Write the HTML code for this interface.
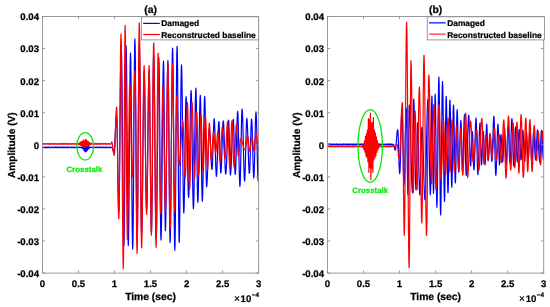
<!DOCTYPE html>
<html><head><meta charset="utf-8"><title>Figure</title>
<style>html,body{margin:0;padding:0;background:#fff;}svg{display:block;filter:blur(0.25px);}</style>
</head><body>
<svg width="550" height="307" viewBox="0 0 550 307" text-rendering="geometricPrecision">
<rect width="550" height="307" fill="#fff"/>
<clipPath id="ca"><rect x="42.45" y="16.50" width="216.15" height="256.60"/></clipPath>
<g clip-path="url(#ca)" fill="none" stroke-linejoin="round">
<polyline points="42.20,147.82 42.43,147.66 42.67,147.33 42.90,147.17 43.13,147.31 43.37,147.61 43.60,147.76 43.83,147.61 44.07,147.31 44.30,147.16 44.53,147.32 44.77,147.63 45.00,147.79 45.23,147.62 45.47,147.27 45.70,147.10 45.93,147.28 46.17,147.64 46.40,147.82 46.63,147.61 46.87,147.17 47.10,146.95 47.33,147.15 47.57,147.54 47.80,147.74 48.03,147.54 48.27,147.15 48.50,146.95 48.73,147.14 48.97,147.51 49.20,147.69 49.43,147.56 49.67,147.29 49.90,147.16 50.13,147.31 50.37,147.61 50.60,147.76 50.83,147.61 51.07,147.32 51.30,147.17 51.53,147.29 51.77,147.54 52.00,147.67 52.23,147.52 52.47,147.23 52.70,147.08 52.93,147.25 53.17,147.59 53.40,147.76 53.63,147.61 53.87,147.30 54.10,147.14 54.33,147.26 54.57,147.51 54.80,147.63 55.03,147.47 55.27,147.14 55.50,146.98 55.73,147.16 55.97,147.52 56.20,147.70 56.43,147.51 56.67,147.14 56.90,146.96 57.13,147.18 57.37,147.61 57.60,147.83 57.83,147.64 58.07,147.27 58.30,147.09 58.53,147.25 58.77,147.57 59.00,147.73 59.23,147.56 59.47,147.23 59.70,147.06 59.93,147.24 60.17,147.59 60.40,147.77 60.63,147.59 60.87,147.22 61.10,147.04 61.33,147.22 61.57,147.57 61.80,147.75 62.03,147.57 62.27,147.21 62.50,147.04 62.73,147.24 62.97,147.64 63.20,147.84 63.43,147.64 63.67,147.25 63.90,147.06 64.13,147.23 64.37,147.56 64.60,147.72 64.83,147.54 65.07,147.19 65.30,147.01 65.53,147.18 65.77,147.51 66.00,147.68 66.23,147.54 66.47,147.25 66.70,147.11 66.93,147.29 67.17,147.66 67.40,147.85 67.63,147.65 67.87,147.25 68.10,147.06 68.33,147.23 68.57,147.58 68.80,147.75 69.03,147.60 69.27,147.32 69.50,147.17 69.73,147.31 69.97,147.58 70.20,147.72 70.43,147.55 70.67,147.21 70.90,147.04 71.13,147.19 71.37,147.48 71.60,147.63 71.83,147.48 72.07,147.18 72.30,147.04 72.53,147.22 72.77,147.58 73.00,147.77 73.23,147.62 73.47,147.31 73.70,147.16 73.93,147.31 74.17,147.61 74.40,147.77 74.63,147.59 74.87,147.24 75.10,147.07 75.33,147.25 75.57,147.60 75.80,147.78 76.03,147.61 76.27,147.27 76.50,147.10 76.73,147.27 76.97,147.61 77.20,147.78 77.43,147.59 77.67,147.20 77.90,147.01 78.13,147.16 78.37,147.47 78.60,147.63 78.83,147.51 79.07,147.28 79.30,147.16 79.45,147.28 79.60,147.40 79.85,147.42 80.10,147.44 80.35,147.37 80.60,147.31 80.85,147.52 81.10,147.73 81.35,147.40 81.60,147.06 81.85,147.68 82.10,148.31 82.35,147.55 82.60,146.79 82.85,147.89 83.10,148.99 83.35,147.74 83.60,146.49 83.85,148.55 84.10,150.60 84.35,148.43 84.60,146.26 84.85,148.93 85.10,151.60 85.35,148.84 85.60,146.07 85.85,148.84 86.10,151.60 86.35,148.92 86.60,146.25 86.85,148.52 87.10,150.80 87.35,148.58 87.60,146.36 87.85,147.75 88.10,149.14 88.35,147.93 88.60,146.71 88.85,147.51 89.10,148.31 89.35,147.67 89.60,147.03 89.85,147.38 90.10,147.73 90.35,147.52 90.60,147.30 90.85,147.37 91.10,147.44 91.35,147.42 91.60,147.40 91.83,147.29 92.07,147.07 92.30,146.96 92.53,147.14 92.77,147.50 93.00,147.68 93.23,147.53 93.47,147.22 93.70,147.07 93.93,147.24 94.17,147.59 94.40,147.76 94.63,147.59 94.87,147.27 95.10,147.10 95.33,147.25 95.57,147.56 95.80,147.71 96.03,147.56 96.27,147.26 96.50,147.10 96.73,147.26 96.97,147.56 97.20,147.71 97.43,147.54 97.67,147.21 97.90,147.04 98.13,147.20 98.37,147.53 98.60,147.69 98.83,147.54 99.07,147.24 99.30,147.09 99.53,147.27 99.77,147.62 100.00,147.80 100.23,147.64 100.47,147.33 100.70,147.17 100.93,147.31 101.17,147.61 101.40,147.75 101.63,147.57 101.87,147.20 102.10,147.01 102.33,147.18 102.57,147.52 102.80,147.69 103.03,147.55 103.27,147.27 103.50,147.12 103.73,147.30 103.97,147.64 104.20,147.81 104.43,147.63 104.67,147.29 104.90,147.12 105.13,147.26 105.37,147.53 105.60,147.67 105.83,147.52 106.07,147.22 106.30,147.08 106.53,147.25 106.77,147.61 107.00,147.78 107.23,147.62 107.47,147.31 107.70,147.15 107.93,147.29 108.17,147.56 108.40,147.70 108.63,147.55 108.87,147.25 109.10,147.10 109.33,147.28 109.57,147.63 109.80,147.81 110.03,147.63 110.27,147.26 110.50,147.08 110.75,147.24 111.00,147.40 111.23,147.40 111.47,147.40 111.70,147.40 111.93,147.51 112.16,147.84 112.39,148.35 112.62,148.99 112.85,149.70 113.08,150.41 113.31,151.05 113.54,151.56 113.77,151.89 114.00,152.00 114.24,151.25 114.47,149.06 114.71,145.61 114.95,141.19 115.18,136.13 115.42,130.87 115.65,125.81 115.89,121.39 116.13,117.94 116.36,115.75 116.60,115.00 116.84,117.92 117.09,126.35 117.33,139.25 117.58,155.08 117.82,171.92 118.07,187.75 118.31,200.65 118.56,209.08 118.80,212.00 119.04,207.91 119.28,196.05 119.52,177.58 119.76,154.30 120.00,128.50 120.24,102.70 120.48,79.42 120.72,60.95 120.96,49.09 121.20,45.00 121.45,49.06 121.69,60.91 121.94,79.58 122.18,103.58 122.43,130.94 122.67,159.46 122.92,186.82 123.16,210.82 123.41,229.49 123.65,241.34 123.90,245.40 124.14,239.38 124.39,222.06 124.63,195.53 124.88,162.97 125.12,128.33 125.37,95.78 125.61,69.24 125.86,51.92 126.10,45.90 126.34,51.92 126.59,69.24 126.83,95.77 127.08,128.33 127.32,162.97 127.57,195.52 127.81,222.06 128.06,239.38 128.30,245.40 128.54,239.60 128.79,222.92 129.03,197.35 129.28,165.99 129.52,132.61 129.77,101.25 130.01,75.68 130.26,59.00 130.50,53.20 130.74,59.10 130.99,76.10 131.23,102.15 131.48,134.10 131.72,168.10 131.97,200.05 132.21,226.10 132.46,243.10 132.70,249.00 132.94,242.66 133.19,224.42 133.43,196.48 133.68,162.19 133.92,125.71 134.17,91.43 134.41,63.48 134.66,45.24 134.90,38.90 135.14,44.96 135.39,62.42 135.63,89.17 135.88,121.99 136.12,156.91 136.37,189.72 136.61,216.48 136.86,233.94 137.10,240.00 137.34,234.12 137.59,217.19 137.83,191.25 138.08,159.43 138.32,125.57 138.57,93.75 138.81,67.81 139.06,50.88 139.30,45.00 139.53,49.65 139.76,63.14 139.99,84.16 140.22,110.64 140.45,140.00 140.68,169.36 140.91,195.84 141.14,216.86 141.37,230.35 141.60,235.00 141.85,231.01 142.10,219.43 142.35,201.40 142.60,178.68 142.85,153.50 143.10,128.32 143.35,105.60 143.60,87.57 143.85,75.99 144.10,72.00 144.35,75.38 144.60,85.18 144.85,100.44 145.10,119.68 145.35,141.00 145.60,162.32 145.85,181.56 146.10,196.82 146.35,206.62 146.60,210.00 146.85,206.62 147.10,196.82 147.35,181.56 147.60,162.32 147.85,141.00 148.10,119.68 148.35,100.44 148.60,85.18 148.85,75.38 149.10,72.00 149.33,75.92 149.56,87.28 149.79,104.98 150.02,127.28 150.25,152.00 150.48,176.72 150.71,199.02 150.94,216.72 151.17,228.08 151.40,232.00 151.63,227.67 151.86,215.10 152.09,195.52 152.32,170.85 152.55,143.50 152.78,116.15 153.01,91.48 153.24,71.90 153.47,59.33 153.70,55.00 153.95,59.48 154.20,72.47 154.45,92.72 154.70,118.22 154.95,146.50 155.20,174.78 155.45,200.28 155.70,220.53 155.95,233.52 156.20,238.00 156.44,234.35 156.67,223.68 156.91,206.87 157.15,185.27 157.38,160.64 157.62,134.96 157.85,110.33 158.09,88.73 158.33,71.92 158.56,61.25 158.80,57.60 159.04,63.10 159.29,78.94 159.53,103.20 159.78,132.96 160.02,164.64 160.27,194.40 160.51,218.66 160.76,234.50 161.00,240.00 161.25,235.62 161.50,222.91 161.75,203.11 162.00,178.16 162.25,150.50 162.50,122.84 162.75,97.89 163.00,78.09 163.25,65.38 163.50,61.00 163.74,67.46 163.97,85.85 164.21,113.38 164.45,145.85 164.69,178.32 164.93,205.85 165.16,224.24 165.40,230.70 165.65,226.53 165.90,214.45 166.15,195.62 166.40,171.90 166.65,145.60 166.90,119.30 167.15,95.58 167.40,76.75 167.65,64.67 167.90,60.50 168.14,65.99 168.39,81.79 168.63,106.00 168.88,135.70 169.12,167.30 169.37,197.00 169.61,221.21 169.86,237.01 170.10,242.50 170.35,237.74 170.60,223.94 170.85,202.43 171.10,175.34 171.35,145.30 171.60,115.26 171.85,88.17 172.10,66.66 172.35,52.86 172.60,48.10 172.84,54.19 173.09,71.74 173.33,98.62 173.58,131.60 173.82,166.70 174.07,199.67 174.31,226.56 174.56,244.11 174.80,250.20 175.03,245.21 175.26,230.73 175.49,208.17 175.72,179.75 175.95,148.25 176.18,116.75 176.41,88.33 176.64,65.77 176.87,51.29 177.10,46.30 177.33,52.22 177.57,69.25 177.80,95.35 178.03,127.37 178.27,161.43 178.50,193.45 178.73,219.55 178.97,236.58 179.20,242.50 179.43,238.15 179.66,225.54 179.89,205.90 180.12,181.14 180.35,153.70 180.58,126.26 180.81,101.50 181.04,81.86 181.27,69.25 181.50,64.90 181.73,68.52 181.96,79.04 182.19,95.42 182.42,116.07 182.65,138.95 182.88,161.83 183.11,182.48 183.34,198.86 183.57,209.38 183.80,213.00 184.03,210.15 184.26,201.89 184.49,189.03 184.72,172.82 184.95,154.85 185.18,136.88 185.41,120.67 185.64,107.81 185.87,99.55 186.10,96.70 186.35,99.16 186.60,106.32 186.85,117.46 187.10,131.49 187.35,147.05 187.60,162.61 187.85,176.64 188.10,187.78 188.35,194.94 188.60,197.40 188.85,194.79 189.10,187.20 189.35,175.39 189.60,160.50 189.85,144.00 190.10,127.50 190.35,112.61 190.60,100.80 190.85,93.21 191.10,90.60 191.33,93.49 191.56,101.87 191.79,114.92 192.02,131.37 192.25,149.60 192.48,167.83 192.71,184.28 192.94,197.33 193.17,205.71 193.40,208.60 193.65,205.65 193.90,197.10 194.15,183.78 194.40,167.00 194.65,148.40 194.90,129.80 195.15,113.02 195.40,99.70 195.65,91.15 195.90,88.20 196.14,92.54 196.38,104.91 196.61,123.42 196.85,145.25 197.09,167.08 197.33,185.59 197.56,197.96 197.80,202.30 198.05,199.68 198.30,192.08 198.55,180.25 198.80,165.33 199.05,148.80 199.30,132.27 199.55,117.35 199.80,105.52 200.05,97.92 200.30,95.30 200.55,99.33 200.80,110.79 201.05,127.96 201.30,148.20 201.55,168.44 201.80,185.61 202.05,197.07 202.30,201.10 202.54,198.54 202.78,191.09 203.02,179.50 203.26,164.89 203.50,148.70 203.74,132.51 203.98,117.90 204.22,106.31 204.46,98.86 204.70,96.30 204.94,99.74 205.17,109.55 205.41,124.23 205.65,141.55 205.89,158.87 206.12,173.55 206.36,183.36 206.60,186.80 206.85,185.61 207.09,182.13 207.34,176.65 207.58,169.61 207.83,161.58 208.07,153.22 208.32,145.19 208.56,138.15 208.81,132.67 209.05,129.19 209.30,128.00 209.55,128.84 209.79,131.29 210.04,135.16 210.28,140.13 210.53,145.80 210.77,151.70 211.02,157.37 211.26,162.34 211.51,166.21 211.75,168.66 212.00,169.50 212.24,167.97 212.49,163.56 212.73,156.80 212.98,148.51 213.22,139.69 213.47,131.40 213.71,124.64 213.96,120.23 214.20,118.70 214.44,120.44 214.69,125.44 214.93,133.10 215.18,142.50 215.42,152.50 215.67,161.90 215.91,169.56 216.16,174.56 216.40,176.30 216.65,174.96 216.90,171.08 217.15,165.03 217.40,157.40 217.65,148.95 217.90,140.50 218.15,132.87 218.40,126.82 218.65,122.94 218.90,121.60 219.14,123.56 219.38,129.13 219.61,137.47 219.85,147.30 220.09,157.13 220.33,165.47 220.56,171.04 220.80,173.00 221.05,171.73 221.30,168.02 221.55,162.26 221.80,155.00 222.05,146.95 222.30,138.90 222.55,131.64 222.80,125.88 223.05,122.17 223.30,120.90 223.54,122.20 223.78,125.99 224.02,131.89 224.26,139.31 224.50,147.55 224.74,155.79 224.98,163.21 225.22,169.11 225.46,172.90 225.70,174.20 225.94,173.28 226.18,170.58 226.42,166.29 226.67,160.70 226.91,154.19 227.15,147.20 227.39,140.21 227.63,133.70 227.88,128.11 228.12,123.82 228.36,121.12 228.60,120.20 228.82,122.29 229.05,128.23 229.28,137.11 229.50,147.60 229.72,158.09 229.95,166.97 230.18,172.91 230.40,175.00 230.64,174.05 230.88,171.28 231.12,166.86 231.37,161.10 231.61,154.40 231.85,147.20 232.09,140.00 232.33,133.30 232.58,127.54 232.82,123.12 233.06,120.35 233.30,119.40 233.54,121.50 233.78,127.47 234.01,136.41 234.25,146.95 234.49,157.49 234.72,166.43 234.96,172.40 235.20,174.50 235.45,172.96 235.70,168.47 235.95,161.49 236.20,152.70 236.45,142.95 236.70,133.20 236.95,124.41 237.20,117.43 237.45,112.94 237.70,111.40 237.94,113.66 238.19,120.16 238.43,130.12 238.68,142.35 238.92,155.35 239.17,167.57 239.41,177.54 239.66,184.04 239.90,186.30 240.14,183.98 240.39,177.28 240.63,167.03 240.88,154.44 241.12,141.06 241.37,128.48 241.61,118.22 241.86,111.52 242.10,109.20 242.35,110.96 242.60,116.07 242.85,124.02 243.10,134.04 243.35,145.15 243.60,156.26 243.85,166.28 244.10,174.23 244.35,179.34 244.60,181.10 244.84,179.21 245.09,173.77 245.33,165.43 245.58,155.19 245.82,144.31 246.07,134.08 246.31,125.73 246.56,120.29 246.80,118.40 247.04,119.52 247.27,122.77 247.51,127.91 247.75,134.51 247.98,142.03 248.22,149.87 248.45,157.39 248.69,163.99 248.93,169.13 249.16,172.38 249.40,173.50 249.64,171.86 249.89,167.12 250.13,159.88 250.38,150.98 250.62,141.52 250.87,132.62 251.11,125.38 251.36,120.64 251.60,119.00 251.84,120.78 252.09,125.90 252.33,133.75 252.58,143.38 252.82,153.62 253.07,163.25 253.31,171.10 253.56,176.22 253.80,178.00 254.04,176.00 254.29,170.26 254.53,161.45 254.78,150.65 255.02,139.15 255.27,128.35 255.51,119.54 255.76,113.80 256.00,111.80 256.24,113.89 256.49,119.89 256.73,129.10 256.98,140.39 257.22,152.41 257.47,163.70 257.71,172.91 257.96,178.91 258.20,181.00 258.43,179.06 258.65,173.53 258.88,165.26 259.10,155.50 259.32,145.74 259.55,137.47 259.77,131.94 260.00,130.00" stroke="#0000ff" stroke-width="1.20"/>
<polyline points="42.20,144.18 42.43,144.02 42.67,143.71 42.90,143.55 43.13,143.72 43.37,144.04 43.60,144.21 43.83,144.04 44.07,143.71 44.30,143.54 44.53,143.72 44.77,144.08 45.00,144.27 45.23,144.11 45.47,143.81 45.70,143.66 45.93,143.78 46.17,144.01 46.40,144.13 46.63,143.97 46.87,143.65 47.10,143.49 47.33,143.66 47.57,144.01 47.80,144.18 48.03,144.04 48.27,143.76 48.50,143.62 48.73,143.80 48.97,144.17 49.20,144.35 49.43,144.15 49.67,143.76 49.90,143.57 50.13,143.76 50.37,144.13 50.60,144.31 50.83,144.13 51.07,143.75 51.30,143.57 51.53,143.74 51.77,144.09 52.00,144.27 52.23,144.11 52.47,143.80 52.70,143.64 52.93,143.80 53.17,144.11 53.40,144.27 53.63,144.07 53.87,143.68 54.10,143.48 54.33,143.67 54.57,144.05 54.80,144.24 55.03,144.06 55.27,143.69 55.50,143.51 55.73,143.70 55.97,144.08 56.20,144.28 56.43,144.12 56.67,143.81 56.90,143.66 57.13,143.82 57.37,144.14 57.60,144.30 57.83,144.11 58.07,143.73 58.30,143.54 58.53,143.70 58.77,144.03 59.00,144.19 59.23,144.06 59.47,143.80 59.70,143.67 59.93,143.83 60.17,144.16 60.40,144.32 60.63,144.13 60.87,143.76 61.10,143.57 61.33,143.75 61.57,144.11 61.80,144.29 62.03,144.08 62.27,143.68 62.50,143.48 62.73,143.68 62.97,144.08 63.20,144.29 63.43,144.08 63.67,143.67 63.90,143.47 64.13,143.65 64.37,144.03 64.60,144.21 64.83,144.03 65.07,143.67 65.30,143.49 65.53,143.68 65.77,144.04 66.00,144.23 66.23,144.03 66.47,143.65 66.70,143.46 66.93,143.68 67.17,144.11 67.40,144.32 67.63,144.16 67.87,143.82 68.10,143.65 68.33,143.78 68.57,144.03 68.80,144.16 69.03,144.02 69.27,143.76 69.50,143.63 69.73,143.81 69.97,144.16 70.20,144.34 70.43,144.15 70.67,143.77 70.90,143.58 71.13,143.75 71.37,144.09 71.60,144.27 71.83,144.10 72.07,143.77 72.30,143.61 72.53,143.77 72.77,144.08 73.00,144.24 73.23,144.08 73.47,143.75 73.70,143.59 73.93,143.74 74.17,144.05 74.40,144.20 74.63,144.04 74.87,143.71 75.10,143.54 75.33,143.72 75.57,144.08 75.80,144.26 76.05,144.08 76.30,143.90 76.47,143.91 76.63,143.92 76.80,143.93 77.05,143.86 77.30,143.79 77.55,143.96 77.80,144.13 78.05,143.80 78.30,143.46 78.55,143.99 78.80,144.51 79.05,143.81 79.30,143.11 79.55,144.02 79.80,144.92 80.05,143.62 80.30,142.32 80.55,143.91 80.80,145.50 81.05,143.59 81.30,141.69 81.55,143.73 81.80,145.77 82.05,143.56 82.30,141.36 82.55,143.80 82.80,146.24 83.05,143.12 83.30,140.00 83.55,143.36 83.80,146.71 84.05,143.88 84.30,141.05 84.55,144.17 84.80,147.30 85.05,143.30 85.30,139.30 85.55,143.13 85.80,146.96 86.05,143.43 86.30,139.90 86.55,143.08 86.80,146.25 87.05,143.66 87.30,141.07 87.55,143.47 87.80,145.87 88.05,143.79 88.30,141.70 88.55,143.56 88.80,145.41 89.05,143.96 89.30,142.51 89.55,143.82 89.80,145.12 90.05,144.05 90.30,142.98 90.55,143.74 90.80,144.50 91.05,143.93 91.30,143.35 91.55,143.77 91.80,144.19 92.05,143.97 92.30,143.75 92.55,143.85 92.80,143.95 93.05,143.92 93.30,143.90 93.53,143.84 93.75,143.71 93.98,143.58 94.20,143.52 94.43,143.72 94.67,144.13 94.90,144.33 95.13,144.12 95.37,143.70 95.60,143.48 95.83,143.70 96.07,144.13 96.30,144.35 96.53,144.14 96.77,143.73 97.00,143.52 97.23,143.68 97.47,144.00 97.70,144.16 97.93,143.99 98.17,143.65 98.40,143.48 98.63,143.70 98.87,144.13 99.10,144.34 99.33,144.12 99.57,143.69 99.80,143.47 100.03,143.67 100.27,144.06 100.50,144.25 100.73,144.07 100.97,143.70 101.20,143.51 101.43,143.68 101.67,144.01 101.90,144.17 102.13,144.00 102.37,143.66 102.60,143.49 102.83,143.68 103.07,144.06 103.30,144.25 103.53,144.09 103.77,143.77 104.00,143.61 104.23,143.74 104.47,144.01 104.70,144.14 104.93,143.98 105.17,143.65 105.40,143.48 105.63,143.70 105.87,144.13 106.10,144.35 106.33,144.17 106.57,143.83 106.80,143.66 107.03,143.82 107.27,144.14 107.50,144.31 107.73,144.12 107.97,143.76 108.20,143.58 108.43,143.73 108.67,144.01 108.90,144.16 109.13,144.02 109.37,143.75 109.60,143.61 109.83,143.78 110.07,144.13 110.30,144.30 110.53,144.20 110.77,144.00 111.00,143.90 111.23,143.43 111.47,142.47 111.70,142.00 111.95,142.33 112.20,143.27 112.45,144.74 112.70,146.60 112.95,148.65 113.20,150.70 113.45,152.56 113.70,154.03 113.95,154.97 114.20,155.30 114.44,154.12 114.68,150.71 114.92,145.39 115.16,138.68 115.40,131.25 115.64,123.82 115.88,117.11 116.12,111.79 116.36,108.38 116.60,107.20 116.84,110.57 117.09,120.25 117.33,135.10 117.58,153.31 117.82,172.69 118.07,190.90 118.31,205.75 118.56,215.43 118.80,218.80 119.04,213.23 119.29,197.18 119.53,172.60 119.78,142.45 120.02,110.35 120.27,80.20 120.51,55.62 120.76,39.57 121.00,34.00 121.23,39.75 121.46,56.42 121.69,82.39 121.92,115.12 122.15,151.40 122.38,187.68 122.61,220.41 122.84,246.38 123.07,263.05 123.30,268.80 123.52,259.54 123.75,233.15 123.97,193.67 124.20,147.10 124.42,100.53 124.65,61.05 124.88,34.66 125.10,25.40 125.33,30.64 125.56,45.84 125.79,69.53 126.02,99.37 126.25,132.45 126.48,165.53 126.71,195.37 126.94,219.06 127.17,234.26 127.40,239.50 127.64,235.67 127.88,224.56 128.12,207.24 128.36,185.43 128.60,161.25 128.84,137.07 129.08,115.26 129.32,97.94 129.56,86.83 129.80,83.00 130.04,85.31 130.28,92.02 130.52,102.48 130.76,115.65 131.00,130.25 131.24,144.85 131.48,158.02 131.72,168.48 131.96,175.19 132.20,177.50 132.45,175.34 132.69,169.03 132.94,159.09 133.18,146.31 133.43,131.74 133.67,116.56 133.92,101.99 134.16,89.21 134.41,79.27 134.65,72.96 134.90,70.80 135.14,76.31 135.39,92.16 135.63,116.45 135.88,146.25 136.12,177.95 136.37,207.75 136.61,232.04 136.86,247.89 137.10,253.40 137.34,246.45 137.59,226.42 137.83,195.75 138.08,158.12 138.32,118.08 138.57,80.45 138.81,49.78 139.06,29.75 139.30,22.80 139.53,28.30 139.76,44.27 139.99,69.13 140.22,100.47 140.45,135.20 140.68,169.93 140.91,201.27 141.14,226.13 141.37,242.10 141.60,247.60 141.85,243.15 142.10,230.22 142.35,210.09 142.60,184.72 142.85,156.60 143.10,128.48 143.35,103.11 143.60,82.98 143.85,70.05 144.10,65.60 144.35,69.24 144.60,79.81 144.85,96.27 145.10,117.01 145.35,140.00 145.60,162.99 145.85,183.73 146.10,200.19 146.35,210.76 146.60,214.40 146.85,210.76 147.10,200.19 147.35,183.73 147.60,162.99 147.85,140.00 148.10,117.01 148.35,96.27 148.60,79.81 148.85,69.24 149.10,65.60 149.33,69.75 149.56,81.79 149.79,100.54 150.02,124.16 150.25,150.35 150.48,176.54 150.71,200.16 150.94,218.91 151.17,230.95 151.40,235.10 151.63,230.40 151.86,216.75 152.09,195.49 152.32,168.70 152.55,139.00 152.78,109.30 153.01,82.51 153.24,61.25 153.47,47.60 153.70,42.90 153.94,47.90 154.18,62.42 154.42,85.03 154.66,113.52 154.90,145.10 155.14,176.68 155.38,205.17 155.62,227.78 155.86,242.30 156.10,247.30 156.35,239.91 156.60,218.87 156.85,187.39 157.10,150.25 157.35,113.11 157.60,81.63 157.85,60.59 158.10,53.20 158.35,57.13 158.60,68.52 158.85,86.26 159.10,108.62 159.35,133.40 159.60,158.18 159.85,180.54 160.10,198.28 160.35,209.67 160.60,213.60 160.83,210.47 161.06,201.39 161.29,187.24 161.52,169.41 161.75,149.65 161.98,129.89 162.21,112.06 162.44,97.91 162.67,88.83 162.90,85.70 163.15,88.78 163.40,97.70 163.65,111.61 163.90,129.13 164.15,148.55 164.40,167.97 164.65,185.49 164.90,199.40 165.15,208.32 165.40,211.40 165.65,207.80 165.90,197.34 166.15,181.06 166.40,160.54 166.65,137.80 166.90,115.06 167.15,94.54 167.40,78.26 167.65,67.80 167.90,64.20 168.14,69.17 168.39,83.48 168.63,105.40 168.88,132.29 169.12,160.91 169.37,187.80 169.61,209.72 169.86,224.03 170.10,229.00 170.35,224.97 170.60,213.26 170.85,195.03 171.10,172.06 171.35,146.60 171.60,121.14 171.85,98.17 172.10,79.94 172.35,68.23 172.60,64.20 172.83,68.64 173.07,81.42 173.30,101.00 173.53,125.02 173.77,150.58 174.00,174.60 174.23,194.18 174.47,206.96 174.70,211.40 174.95,207.03 175.20,194.60 175.45,176.00 175.70,154.05 175.95,132.10 176.20,113.50 176.45,101.07 176.70,96.70 176.94,98.09 177.17,102.16 177.41,108.57 177.65,116.81 177.88,126.20 178.12,136.00 178.35,145.39 178.59,153.63 178.83,160.04 179.06,164.11 179.30,165.50 179.55,164.94 179.80,163.30 180.05,160.65 180.30,157.12 180.55,152.90 180.80,148.20 181.05,143.25 181.30,138.30 181.55,133.60 181.80,129.38 182.05,125.85 182.30,123.20 182.55,121.56 182.80,121.00 183.05,122.39 183.30,126.42 183.55,132.71 183.80,140.62 184.05,149.40 184.30,158.18 184.55,166.09 184.80,172.38 185.05,176.41 185.30,177.80 185.53,175.53 185.77,169.00 186.00,159.00 186.23,146.73 186.47,133.67 186.70,121.40 186.93,111.40 187.17,104.87 187.40,102.60 187.64,105.22 187.89,112.75 188.13,124.30 188.38,138.46 188.62,153.54 188.87,167.70 189.11,179.25 189.36,186.78 189.60,189.40 189.84,187.27 190.08,181.08 190.32,171.45 190.56,159.31 190.80,145.85 191.04,132.39 191.28,120.25 191.52,110.62 191.76,104.43 192.00,102.30 192.25,104.18 192.50,109.62 192.75,118.11 193.00,128.80 193.25,140.65 193.50,152.50 193.75,163.19 194.00,171.68 194.25,177.12 194.50,179.00 194.74,176.98 194.99,171.17 195.23,162.28 195.48,151.36 195.72,139.74 195.97,128.82 196.21,119.93 196.46,114.12 196.70,112.10 196.93,113.99 197.17,119.42 197.40,127.75 197.63,137.96 197.87,148.84 198.10,159.05 198.33,167.38 198.57,172.81 198.80,174.70 199.04,172.88 199.29,167.63 199.53,159.60 199.78,149.74 200.02,139.26 200.27,129.40 200.51,121.37 200.76,116.12 201.00,114.30 201.25,116.48 201.50,122.71 201.75,132.02 202.00,143.00 202.25,153.98 202.50,163.29 202.75,169.52 203.00,171.70 203.24,170.33 203.48,166.36 203.72,160.18 203.96,152.39 204.20,143.75 204.44,135.11 204.68,127.32 204.92,121.14 205.16,117.17 205.40,115.80 205.64,117.42 205.89,122.08 206.13,129.22 206.38,137.99 206.62,147.31 206.87,156.07 207.11,163.22 207.36,167.88 207.60,169.50 207.84,167.20 208.09,160.75 208.33,151.42 208.57,141.08 208.81,131.75 209.06,125.30 209.30,123.00 209.55,124.43 209.80,128.49 210.05,134.57 210.30,141.75 210.55,148.93 210.80,155.01 211.05,159.07 211.30,160.50 211.54,159.65 211.79,157.20 212.03,153.45 212.28,148.85 212.52,143.95 212.77,139.35 213.01,135.60 213.26,133.15 213.50,132.30 213.74,132.92 213.99,134.70 214.23,137.43 214.48,140.77 214.72,144.33 214.97,147.68 215.21,150.40 215.46,152.18 215.70,152.80 215.94,152.16 216.19,150.31 216.43,147.48 216.68,144.00 216.92,140.30 217.17,136.83 217.41,133.99 217.66,132.14 217.90,131.50 218.14,132.42 218.39,135.07 218.63,139.12 218.88,144.10 219.12,149.40 219.37,154.38 219.61,158.43 219.86,161.08 220.10,162.00 220.34,160.94 220.59,157.91 220.83,153.25 221.08,147.54 221.32,141.46 221.57,135.75 221.81,131.09 222.06,128.06 222.30,127.00 222.55,127.64 222.79,129.51 223.04,132.45 223.28,136.24 223.53,140.55 223.77,145.05 224.02,149.36 224.26,153.15 224.51,156.09 224.75,157.96 225.00,158.60 225.24,157.85 225.47,155.66 225.71,152.20 225.95,147.76 226.18,142.69 226.42,137.41 226.65,132.34 226.89,127.90 227.13,124.44 227.36,122.25 227.60,121.50 227.84,122.90 228.09,126.94 228.33,133.12 228.58,140.71 228.82,148.79 229.07,156.38 229.31,162.56 229.56,166.60 229.80,168.00 230.04,166.57 230.29,162.44 230.53,156.12 230.78,148.37 231.02,140.13 231.27,132.38 231.51,126.06 231.76,121.93 232.00,120.50 232.25,122.25 232.50,127.25 232.75,134.73 233.00,143.55 233.25,152.37 233.50,159.85 233.75,164.85 234.00,166.60 234.24,165.57 234.48,162.58 234.72,157.92 234.96,152.05 235.20,145.55 235.44,139.05 235.68,133.18 235.92,128.52 236.16,125.53 236.40,124.50 236.65,125.71 236.90,129.17 237.15,134.35 237.40,140.45 237.65,146.55 237.90,151.73 238.15,155.19 238.40,156.40 238.64,155.87 238.89,154.34 239.13,152.00 239.38,149.13 239.62,146.07 239.87,143.20 240.11,140.86 240.36,139.33 240.60,138.80 240.84,138.88 241.09,139.13 241.33,139.54 241.58,140.09 241.82,140.76 242.07,141.55 242.31,142.42 242.56,143.34 242.80,144.30 243.04,145.26 243.29,146.18 243.53,147.05 243.78,147.84 244.02,148.51 244.27,149.06 244.51,149.47 244.76,149.72 245.00,149.80 245.24,149.52 245.47,148.70 245.71,147.40 245.95,145.74 246.18,143.84 246.42,141.86 246.65,139.96 246.89,138.30 247.13,137.00 247.36,136.18 247.60,135.90 247.83,136.36 248.07,137.70 248.30,139.75 248.53,142.26 248.77,144.94 249.00,147.45 249.23,149.50 249.47,150.84 249.70,151.30 249.93,150.96 250.16,149.97 250.39,148.44 250.62,146.50 250.85,144.35 251.08,142.20 251.31,140.26 251.54,138.73 251.77,137.74 252.00,137.40 252.23,137.82 252.47,139.03 252.70,140.88 252.93,143.14 253.17,145.56 253.40,147.83 253.63,149.67 253.87,150.88 254.10,151.30 254.34,150.63 254.57,148.72 254.81,145.87 255.05,142.50 255.29,139.13 255.53,136.28 255.76,134.37 256.00,133.70 256.24,134.28 256.49,135.93 256.73,138.47 256.98,141.59 257.22,144.91 257.47,148.03 257.71,150.57 257.96,152.22 258.20,152.80 258.43,152.24 258.65,150.63 258.88,148.23 259.10,145.40 259.32,142.57 259.55,140.17 259.77,138.56 260.00,138.00" stroke="#ff0000" stroke-width="1.20"/>
</g>
<g stroke="#8f8f8f" stroke-width="0.9" fill="none">
<rect x="42.45" y="16.50" width="216.15" height="256.60"/>
<path d="M42.45 273.10v-2.70M42.45 16.50v2.70"/>
<path d="M78.48 273.10v-2.70M78.48 16.50v2.70"/>
<path d="M114.50 273.10v-2.70M114.50 16.50v2.70"/>
<path d="M150.53 273.10v-2.70M150.53 16.50v2.70"/>
<path d="M186.55 273.10v-2.70M186.55 16.50v2.70"/>
<path d="M222.58 273.10v-2.70M222.58 16.50v2.70"/>
<path d="M258.60 273.10v-2.70M258.60 16.50v2.70"/>
<path d="M42.45 16.50h2.70M258.60 16.50h-2.70"/>
<path d="M42.45 48.58h2.70M258.60 48.58h-2.70"/>
<path d="M42.45 80.65h2.70M258.60 80.65h-2.70"/>
<path d="M42.45 112.73h2.70M258.60 112.73h-2.70"/>
<path d="M42.45 144.80h2.70M258.60 144.80h-2.70"/>
<path d="M42.45 176.88h2.70M258.60 176.88h-2.70"/>
<path d="M42.45 208.95h2.70M258.60 208.95h-2.70"/>
<path d="M42.45 241.03h2.70M258.60 241.03h-2.70"/>
<path d="M42.45 273.10h2.70M258.60 273.10h-2.70"/>
</g>
<g font-family="Liberation Sans, Arial, sans-serif" font-weight="bold" font-size="9.6" fill="#000" stroke="#000" stroke-width="0.25">
<text x="39.05" y="20.40" text-anchor="end">0.04</text>
<text x="39.05" y="52.48" text-anchor="end">0.03</text>
<text x="39.05" y="84.55" text-anchor="end">0.02</text>
<text x="39.05" y="116.63" text-anchor="end">0.01</text>
<text x="39.05" y="148.70" text-anchor="end">0</text>
<text x="39.05" y="180.78" text-anchor="end">-0.01</text>
<text x="39.05" y="212.85" text-anchor="end">-0.02</text>
<text x="39.05" y="244.93" text-anchor="end">-0.03</text>
<text x="39.05" y="277.00" text-anchor="end">-0.04</text>
<text x="42.45" y="286.5" text-anchor="middle">0</text>
<text x="78.48" y="286.5" text-anchor="middle">0.5</text>
<text x="114.50" y="286.5" text-anchor="middle">1</text>
<text x="150.53" y="286.5" text-anchor="middle">1.5</text>
<text x="186.55" y="286.5" text-anchor="middle">2</text>
<text x="222.58" y="286.5" text-anchor="middle">2.5</text>
<text x="258.60" y="286.5" text-anchor="middle">3</text>
</g>
<text x="150.53" y="12.8" text-anchor="middle" font-family="Liberation Sans, Arial, sans-serif" font-weight="bold" font-size="10.4" fill="#000" stroke="#000" stroke-width="0.25">(a)</text>
<text x="150.53" y="299.7" text-anchor="middle" font-family="Liberation Sans, Arial, sans-serif" font-weight="bold" font-size="10.3" fill="#000" stroke="#000" stroke-width="0.25">Time (sec)</text>
<text transform="translate(14.55 145.2) rotate(-90)" text-anchor="middle" font-family="Liberation Sans, Arial, sans-serif" font-weight="bold" font-size="10.15" fill="#000" stroke="#000" stroke-width="0.25">Amplitude (V)</text>
<g font-family="Liberation Sans, Arial, sans-serif" fill="#000" stroke="#000" stroke-width="0.2"><text x="233.90" y="301.7" font-size="10.2">&#215;</text><text x="240.60" y="301.7" font-size="9.6" font-weight="bold">10</text><text x="251.70" y="296.7" font-size="6.4" font-weight="bold">&#8722;4</text></g>
<rect x="141.40" y="16.8" width="117.2" height="23.1" fill="#fff" stroke="#8a8a8a" stroke-width="0.85"/>
<path d="M143.20 23.4h16.6" stroke="#0000ff" stroke-width="1.2"/>
<path d="M143.20 34.5h16.6" stroke="#ff0000" stroke-width="1.2"/>
<g font-family="Liberation Sans, Arial, sans-serif" font-weight="bold" font-size="8.4" fill="#000" stroke="#000" stroke-width="0.22">
<text x="161.30" y="26.2">Damaged</text>
<text x="161.30" y="37.5">Reconstructed baseline</text>
</g>
<clipPath id="cb"><rect x="327.45" y="16.50" width="216.25" height="256.60"/></clipPath>
<g clip-path="url(#cb)" fill="none" stroke-linejoin="round">
<polyline points="327.40,144.82 327.63,144.59 327.87,144.13 328.10,143.90 328.33,144.11 328.57,144.52 328.80,144.72 329.03,144.52 329.27,144.11 329.50,143.91 329.73,144.16 329.97,144.67 330.20,144.93 330.43,144.67 330.67,144.16 330.90,143.90 331.13,144.15 331.37,144.65 331.60,144.90 331.83,144.71 332.07,144.32 332.30,144.12 332.53,144.30 332.77,144.67 333.00,144.85 333.23,144.61 333.47,144.13 333.70,143.89 333.93,144.09 334.17,144.49 334.40,144.69 334.63,144.53 334.87,144.21 335.10,144.05 335.33,144.22 335.57,144.57 335.80,144.75 336.03,144.56 336.27,144.17 336.50,143.98 336.73,144.18 336.97,144.59 337.20,144.79 337.43,144.59 337.67,144.19 337.90,143.99 338.13,144.22 338.37,144.67 338.60,144.89 338.83,144.70 339.07,144.32 339.30,144.12 339.53,144.27 339.77,144.55 340.00,144.69 340.23,144.54 340.47,144.24 340.70,144.09 340.93,144.24 341.17,144.55 341.40,144.71 341.63,144.56 341.87,144.26 342.10,144.11 342.33,144.32 342.57,144.73 342.80,144.94 343.03,144.68 343.27,144.15 343.50,143.89 343.73,144.09 343.97,144.50 344.20,144.70 344.43,144.52 344.67,144.16 344.90,143.99 345.13,144.18 345.37,144.57 345.60,144.76 345.83,144.58 346.07,144.22 346.30,144.04 346.53,144.22 346.77,144.59 347.00,144.77 347.23,144.57 347.47,144.15 347.70,143.95 347.93,144.17 348.17,144.61 348.40,144.84 348.63,144.63 348.87,144.23 349.10,144.03 349.33,144.20 349.57,144.55 349.80,144.73 350.03,144.55 350.27,144.21 350.50,144.03 350.73,144.20 350.97,144.54 351.20,144.71 351.43,144.52 351.67,144.16 351.90,143.97 352.13,144.20 352.37,144.65 352.60,144.87 352.83,144.66 353.07,144.23 353.30,144.02 353.53,144.19 353.77,144.53 354.00,144.70 354.23,144.54 354.47,144.23 354.70,144.08 354.93,144.25 355.17,144.60 355.40,144.78 355.63,144.57 355.87,144.16 356.10,143.96 356.33,144.19 356.57,144.66 356.80,144.89 357.03,144.67 357.27,144.24 357.50,144.02 357.73,144.24 357.97,144.68 358.20,144.90 358.43,144.66 358.67,144.19 358.90,143.95 359.13,144.16 359.37,144.58 359.60,144.79 359.83,144.60 360.07,144.22 360.30,144.02 360.53,144.22 360.77,144.61 361.00,144.81 361.23,144.59 361.47,144.15 361.70,143.93 361.93,144.15 362.17,144.58 362.40,144.79 362.63,144.58 362.87,144.15 363.10,143.93 363.33,144.15 363.57,144.58 363.80,144.80 364.03,144.62 364.27,144.24 364.50,144.06 364.73,144.25 364.97,144.63 365.20,144.82 365.43,144.60 365.67,144.16 365.90,143.93 366.13,144.12 366.37,144.50 366.60,144.69 366.83,144.52 367.07,144.18 367.30,144.01 367.53,144.20 367.77,144.60 368.00,144.79 368.23,144.56 368.47,144.11 368.70,143.88 368.93,144.15 369.17,144.67 369.40,144.93 369.63,144.70 369.87,144.25 370.10,144.02 370.33,144.25 370.57,144.70 370.80,144.92 371.03,144.67 371.27,144.16 371.50,143.91 371.73,144.12 371.97,144.54 372.20,144.75 372.43,144.56 372.67,144.18 372.90,144.00 373.13,144.18 373.37,144.53 373.60,144.71 373.83,144.51 374.07,144.10 374.30,143.90 374.53,144.14 374.77,144.62 375.00,144.86 375.23,144.61 375.47,144.13 375.70,143.88 375.93,144.13 376.17,144.64 376.40,144.89 376.63,144.66 376.87,144.18 377.10,143.94 377.33,144.18 377.57,144.64 377.80,144.88 378.03,144.65 378.27,144.20 378.50,143.97 378.73,144.15 378.97,144.52 379.20,144.70 379.43,144.52 379.67,144.15 379.90,143.96 380.13,144.14 380.37,144.50 380.60,144.68 380.83,144.53 381.07,144.23 381.30,144.09 381.53,144.29 381.77,144.69 382.00,144.89 382.23,144.69 382.47,144.31 382.70,144.11 382.93,144.26 383.17,144.55 383.40,144.70 383.63,144.55 383.87,144.25 384.10,144.10 384.33,144.30 384.57,144.71 384.80,144.92 385.03,144.71 385.27,144.29 385.50,144.08 385.73,144.23 385.97,144.53 386.20,144.68 386.43,144.48 386.67,144.09 386.90,143.89 387.13,144.10 387.37,144.50 387.60,144.71 387.83,144.50 388.07,144.10 388.30,143.89 388.53,144.13 388.77,144.62 389.00,144.86 389.23,144.62 389.47,144.14 389.70,143.90 389.93,144.16 390.17,144.68 390.40,144.94 390.63,144.69 390.87,144.21 391.10,143.97 391.33,144.20 391.57,144.66 391.80,144.89 392.03,144.70 392.27,144.31 392.50,144.12 392.73,144.31 392.97,144.69 393.20,144.89 393.35,144.64 393.50,144.40 393.50,144.30 393.74,144.59 393.99,145.41 394.23,146.59 394.47,147.91 394.71,149.09 394.96,149.91 395.20,150.20 395.45,149.70 395.70,148.24 395.95,145.97 396.20,143.12 396.45,139.95 396.70,136.78 396.95,133.93 397.20,131.66 397.45,130.20 397.70,129.70 397.95,131.37 398.20,136.14 398.45,143.28 398.70,151.70 398.95,160.12 399.20,167.26 399.45,172.03 399.70,173.70 399.93,172.14 400.16,167.62 400.39,160.57 400.62,151.69 400.85,141.85 401.08,132.01 401.31,123.13 401.54,116.08 401.77,111.56 402.00,110.00 402.25,112.85 402.50,120.98 402.75,133.15 403.00,147.50 403.25,161.85 403.50,174.02 403.75,182.15 404.00,185.00 404.24,182.68 404.49,175.99 404.73,165.75 404.98,153.19 405.22,139.81 405.47,127.25 405.71,117.01 405.96,110.32 406.20,108.00 406.43,111.31 406.65,120.74 406.88,134.85 407.10,151.50 407.32,168.15 407.55,182.26 407.77,191.69 408.00,195.00 408.22,188.98 408.43,172.55 408.65,150.10 408.87,127.65 409.08,111.22 409.30,105.20 409.55,106.47 409.79,110.21 410.04,116.20 410.28,124.10 410.53,133.44 410.78,143.68 411.02,154.22 411.27,164.46 411.52,173.80 411.76,181.70 412.01,187.69 412.25,191.43 412.50,192.70 412.74,183.75 412.98,160.33 413.22,131.37 413.46,107.95 413.70,99.00 413.93,101.23 414.16,107.69 414.39,117.76 414.62,130.44 414.85,144.50 415.08,158.56 415.31,171.24 415.54,181.31 415.77,187.77 416.00,190.00 416.23,186.67 416.46,177.35 416.69,163.88 416.91,148.92 417.14,135.45 417.37,126.13 417.60,122.80 417.84,124.98 418.09,131.25 418.33,140.85 418.58,152.63 418.82,165.17 419.07,176.95 419.31,186.55 419.56,192.82 419.80,195.00 420.04,192.95 420.29,187.05 420.53,178.00 420.78,166.90 421.02,155.10 421.27,144.00 421.51,134.95 421.76,129.05 422.00,127.00 422.25,128.24 422.50,131.89 422.75,137.69 423.00,145.25 423.25,154.05 423.50,163.50 423.75,172.95 424.00,181.75 424.25,189.31 424.50,195.11 424.75,198.76 425.00,200.00 425.24,198.28 425.48,193.25 425.73,185.25 425.97,174.83 426.21,162.68 426.45,149.65 426.69,136.62 426.93,124.48 427.17,114.05 427.42,106.05 427.66,101.02 427.90,99.30 428.15,101.63 428.40,108.40 428.65,118.94 428.90,132.23 429.15,146.95 429.40,161.67 429.65,174.96 429.90,185.50 430.15,192.27 430.40,194.60 430.65,188.00 430.90,169.97 431.15,145.35 431.40,120.73 431.65,102.70 431.90,96.10 432.13,100.91 432.36,114.40 432.59,133.89 432.81,155.51 433.04,175.00 433.27,188.49 433.50,193.30 433.74,188.39 433.99,174.64 434.23,154.78 434.47,132.72 434.71,112.86 434.96,99.11 435.20,94.20 435.44,99.80 435.69,115.49 435.93,138.17 436.17,163.33 436.41,186.01 436.66,201.70 436.90,207.30 437.15,202.34 437.40,188.23 437.65,167.11 437.90,142.20 438.15,117.29 438.40,96.17 438.65,82.06 438.90,77.10 439.14,83.93 439.39,103.06 439.63,130.71 439.87,161.39 440.11,189.04 440.36,208.17 440.60,215.00 440.84,209.92 441.08,195.45 441.31,173.79 441.55,148.25 441.79,122.71 442.02,101.05 442.26,86.58 442.50,81.50 442.75,86.07 443.00,99.07 443.25,118.54 443.50,141.50 443.75,164.46 444.00,183.93 444.25,196.93 444.50,201.50 444.74,196.30 444.99,181.71 445.23,160.64 445.47,137.26 445.71,116.19 445.96,101.60 446.20,96.40 446.43,100.07 446.65,110.52 446.88,126.15 447.10,144.60 447.32,163.05 447.55,178.68 447.77,189.13 448.00,192.80 448.24,189.27 448.48,179.22 448.71,164.19 448.95,146.45 449.19,128.71 449.42,113.68 449.66,103.63 449.90,100.10 450.14,103.42 450.38,112.86 450.61,126.98 450.85,143.65 451.09,160.32 451.32,174.44 451.56,183.88 451.80,187.20 452.04,183.14 452.29,171.76 452.53,155.32 452.77,137.08 453.01,120.64 453.26,109.26 453.50,105.20 453.73,108.16 453.95,116.59 454.18,129.21 454.40,144.10 454.62,158.99 454.85,171.61 455.07,180.04 455.30,183.00 455.54,180.21 455.77,172.25 456.01,160.34 456.25,146.30 456.49,132.26 456.73,120.35 456.96,112.39 457.20,109.60 457.43,112.70 457.66,121.38 457.89,133.94 458.11,147.86 458.34,160.42 458.57,169.10 458.80,172.20 459.03,170.64 459.27,166.16 459.50,159.30 459.73,150.88 459.97,141.92 460.20,133.50 460.43,126.64 460.67,122.16 460.90,120.60 461.13,123.15 461.36,130.28 461.59,140.58 461.81,152.02 462.04,162.32 462.27,169.45 462.50,172.00 462.75,169.82 463.00,163.61 463.25,154.31 463.50,143.35 463.75,132.39 464.00,123.09 464.25,116.88 464.50,114.70 464.74,117.70 464.99,126.11 465.23,138.26 465.47,151.74 465.71,163.89 465.96,172.30 466.20,175.30 466.45,173.83 466.70,169.55 466.95,162.89 467.20,154.50 467.45,145.20 467.70,135.90 467.95,127.51 468.20,120.85 468.45,116.57 468.70,115.10 468.94,117.03 469.18,122.52 469.41,130.75 469.65,140.45 469.89,150.15 470.12,158.38 470.36,163.87 470.60,165.80 470.84,164.11 471.09,159.36 471.33,152.51 471.57,144.89 471.81,138.04 472.06,133.29 472.30,131.60 472.54,133.50 472.79,138.83 473.03,146.53 473.27,155.07 473.51,162.77 473.76,168.10 474.00,170.00 474.25,168.02 474.50,162.40 474.75,153.98 475.00,144.05 475.25,134.12 475.50,125.70 475.75,120.08 476.00,118.10 476.24,120.25 476.48,126.37 476.71,135.54 476.95,146.35 477.19,157.16 477.42,166.33 477.66,172.45 477.90,174.60 478.13,173.05 478.37,168.58 478.60,161.72 478.83,153.32 479.07,144.38 479.30,135.97 479.53,129.12 479.77,124.65 480.00,123.10 480.25,125.91 480.50,133.57 480.75,144.05 481.00,154.53 481.25,162.19 481.50,165.00 481.73,163.73 481.95,160.11 482.18,154.69 482.40,148.30 482.62,141.91 482.85,136.49 483.07,132.87 483.30,131.60 483.54,133.25 483.79,137.89 484.03,144.58 484.27,152.02 484.51,158.71 484.76,163.35 485.00,165.00 485.24,162.97 485.49,157.28 485.73,149.06 485.97,139.94 486.21,131.72 486.46,126.03 486.70,124.00 486.95,126.45 487.20,133.15 487.45,142.30 487.70,151.45 487.95,158.15 488.20,160.60 488.43,159.83 488.67,157.61 488.90,154.20 489.13,150.02 489.37,145.58 489.60,141.40 489.83,137.99 490.07,135.77 490.30,135.00 490.55,136.77 490.80,141.60 491.05,148.20 491.30,154.80 491.55,159.63 491.80,161.40 492.03,160.04 492.27,156.11 492.50,150.10 492.73,142.72 492.97,134.88 493.20,127.50 493.43,121.49 493.67,117.56 493.90,116.20 494.14,118.45 494.38,124.85 494.61,134.44 494.85,145.75 495.09,157.06 495.32,166.65 495.56,173.05 495.80,175.30 496.04,173.76 496.29,169.32 496.53,162.53 496.78,154.19 497.02,145.31 497.27,136.98 497.51,130.18 497.76,125.74 498.00,124.20 498.25,126.93 498.50,134.40 498.75,144.60 499.00,154.80 499.25,162.27 499.50,165.00 499.73,162.96 499.97,157.38 500.20,149.75 500.43,142.12 500.67,136.54 500.90,134.50 501.12,135.55 501.35,138.53 501.57,142.99 501.80,148.25 502.02,153.51 502.25,157.97 502.47,160.95 502.70,162.00 502.93,160.71 503.15,157.02 503.38,151.51 503.60,145.00 503.82,138.49 504.05,132.98 504.27,129.29 504.50,128.00 504.73,129.41 504.95,133.42 505.18,139.42 505.40,146.50 505.62,153.58 505.85,159.58 506.07,163.59 506.30,165.00 506.53,163.52 506.75,159.29 506.98,152.96 507.20,145.50 507.43,138.04 507.65,131.71 507.88,127.48 508.10,126.00 508.34,127.41 508.58,131.42 508.81,137.42 509.05,144.50 509.29,151.58 509.52,157.58 509.76,161.59 510.00,163.00 510.24,161.31 510.48,156.51 510.71,149.33 510.95,140.85 511.19,132.37 511.42,125.19 511.66,120.39 511.90,118.70 512.12,120.50 512.35,125.63 512.58,133.30 512.80,142.35 513.02,151.40 513.25,159.07 513.48,164.20 513.70,166.00 513.93,164.52 514.15,160.32 514.38,154.02 514.60,146.60 514.83,139.18 515.05,132.88 515.27,128.68 515.50,127.20 515.74,128.52 515.98,132.30 516.21,137.94 516.45,144.60 516.69,151.26 516.92,156.90 517.16,160.68 517.40,162.00 517.62,160.76 517.85,157.23 518.08,151.94 518.30,145.70 518.52,139.46 518.75,134.17 518.98,130.64 519.20,129.40 519.43,130.56 519.65,133.88 519.88,138.84 520.10,144.70 520.33,150.56 520.55,155.52 520.77,158.84 521.00,160.00 521.23,158.86 521.45,155.61 521.67,150.74 521.90,145.00 522.12,139.26 522.35,134.39 522.57,131.14 522.80,130.00 523.02,131.22 523.25,134.69 523.48,139.88 523.70,146.00 523.92,152.12 524.15,157.31 524.38,160.78 524.60,162.00 524.83,160.86 525.05,157.61 525.27,152.74 525.50,147.00 525.73,141.26 525.95,136.39 526.17,133.14 526.40,132.00 526.62,133.07 526.85,136.10 527.08,140.64 527.30,146.00 527.52,151.36 527.75,155.90 527.98,158.93 528.20,160.00 528.43,158.90 528.65,155.75 528.88,151.05 529.10,145.50 529.33,139.95 529.55,135.25 529.77,132.10 530.00,131.00 530.23,132.18 530.45,135.54 530.67,140.57 530.90,146.50 531.12,152.43 531.35,157.46 531.57,160.82 531.80,162.00 532.04,160.86 532.27,157.61 532.51,152.74 532.75,147.00 532.99,141.26 533.23,136.39 533.46,133.14 533.70,132.00 533.94,133.07 534.18,136.10 534.41,140.64 534.65,146.00 534.89,151.36 535.12,155.90 535.36,158.93 535.60,160.00 535.84,158.85 536.08,155.58 536.31,150.68 536.55,144.90 536.79,139.12 537.02,134.22 537.26,130.95 537.50,129.80 537.74,130.77 537.99,133.58 538.23,137.88 538.48,143.15 538.72,148.75 538.97,154.03 539.21,158.32 539.46,161.13 539.70,162.10 539.93,160.89 540.15,157.46 540.38,152.32 540.60,146.25 540.83,140.18 541.05,135.04 541.27,131.61 541.50,130.40 541.75,131.53 542.00,134.73 542.25,139.54 542.50,145.20 542.75,150.86 543.00,155.67 543.25,158.87 543.50,160.00 543.75,159.05 544.00,156.34 544.25,152.28 544.50,147.50 544.75,142.72 545.00,138.66 545.25,135.95 545.50,135.00" stroke="#0000ff" stroke-width="1.20"/>
<polyline points="327.40,146.91 327.63,146.70 327.87,146.29 328.10,146.08 328.33,146.25 328.57,146.60 328.80,146.77 329.03,146.56 329.27,146.15 329.50,145.95 329.73,146.19 329.97,146.68 330.20,146.92 330.43,146.69 330.67,146.23 330.90,146.00 331.13,146.18 331.37,146.55 331.60,146.74 331.83,146.58 332.07,146.25 332.30,146.09 332.53,146.27 332.77,146.64 333.00,146.82 333.23,146.63 333.47,146.26 333.70,146.07 333.93,146.28 334.17,146.69 334.40,146.90 334.63,146.65 334.87,146.15 335.10,145.89 335.33,146.10 335.57,146.52 335.80,146.73 336.03,146.56 336.27,146.22 336.50,146.05 336.73,146.26 336.97,146.68 337.20,146.90 337.43,146.66 337.67,146.19 337.90,145.95 338.13,146.19 338.37,146.66 338.60,146.90 338.83,146.68 339.07,146.25 339.30,146.03 339.53,146.20 339.77,146.54 340.00,146.71 340.23,146.54 340.47,146.21 340.70,146.04 340.93,146.26 341.17,146.68 341.40,146.89 341.63,146.68 341.87,146.26 342.10,146.05 342.33,146.23 342.57,146.59 342.80,146.77 343.03,146.58 343.27,146.20 343.50,146.01 343.73,146.21 343.97,146.60 344.20,146.79 344.43,146.60 344.67,146.21 344.90,146.01 345.13,146.24 345.37,146.70 345.60,146.93 345.83,146.72 346.07,146.29 346.30,146.08 346.53,146.23 346.77,146.53 347.00,146.68 347.23,146.47 347.47,146.07 347.70,145.87 347.93,146.13 348.17,146.65 348.40,146.92 348.63,146.65 348.87,146.12 349.10,145.85 349.33,146.09 349.57,146.56 349.80,146.79 350.03,146.56 350.27,146.10 350.50,145.86 350.73,146.13 350.97,146.66 351.20,146.93 351.43,146.71 351.67,146.28 351.90,146.06 352.13,146.27 352.37,146.68 352.60,146.88 352.83,146.63 353.07,146.14 353.30,145.89 353.53,146.14 353.77,146.62 354.00,146.86 354.23,146.64 354.47,146.20 354.70,145.98 354.93,146.18 355.17,146.56 355.40,146.75 355.63,146.57 355.87,146.21 356.10,146.03 356.33,146.21 356.57,146.56 356.80,146.74 357.03,146.58 357.27,146.26 357.50,146.11 357.73,146.29 357.97,146.65 358.20,146.84 358.43,146.64 358.67,146.24 358.90,146.05 359.13,146.26 359.37,146.68 359.60,146.90 359.83,146.70 360.07,146.31 360.30,146.11 360.53,146.32 360.77,146.72 361.00,146.92 361.20,146.66 361.40,146.40 361.65,146.51 361.90,146.63 362.15,146.19 362.40,145.74 362.65,146.68 362.90,147.61 363.15,145.70 363.40,143.80 363.65,146.68 363.90,149.55 364.15,145.33 364.40,141.12 364.65,146.59 364.90,152.06 365.15,144.32 365.40,136.58 365.65,146.07 365.90,155.56 366.15,144.74 366.40,133.91 366.65,145.73 366.90,157.54 367.15,143.88 367.40,130.22 367.65,146.02 367.90,161.83 368.15,140.16 368.40,118.50 368.65,145.40 368.90,172.30 369.15,146.10 369.40,119.91 369.65,143.70 369.90,167.50 370.15,140.25 370.40,113.00 370.65,146.35 370.90,179.70 371.15,151.37 371.40,123.05 371.65,145.77 371.90,168.50 372.15,145.41 372.40,122.33 372.65,147.31 372.90,172.30 373.15,145.00 373.40,117.70 373.65,138.86 373.90,160.02 374.15,145.24 374.40,130.46 374.65,144.21 374.90,157.95 375.15,145.40 375.40,132.85 375.65,144.25 375.90,155.65 376.15,146.23 376.40,136.82 376.65,144.52 376.90,152.22 377.15,146.46 377.40,140.71 377.65,145.15 377.90,149.60 378.15,146.72 378.40,143.83 378.65,145.70 378.90,147.56 379.15,146.65 379.40,145.73 379.65,146.19 379.90,146.64 380.15,146.57 380.40,146.50 380.63,146.34 380.87,146.03 381.10,145.87 381.33,146.13 381.57,146.66 381.80,146.92 382.03,146.66 382.27,146.14 382.50,145.88 382.73,146.12 382.97,146.59 383.20,146.83 383.43,146.66 383.67,146.30 383.90,146.12 384.13,146.31 384.37,146.69 384.60,146.88 384.83,146.68 385.07,146.28 385.30,146.08 385.53,146.25 385.77,146.59 386.00,146.76 386.23,146.55 386.47,146.15 386.70,145.94 386.93,146.16 387.17,146.60 387.40,146.82 387.63,146.62 387.87,146.21 388.10,146.01 388.33,146.24 388.57,146.70 388.80,146.93 389.03,146.69 389.27,146.20 389.50,145.96 389.73,146.16 389.97,146.57 390.20,146.77 390.43,146.59 390.67,146.23 390.90,146.06 391.13,146.27 391.37,146.70 391.60,146.91 391.83,146.68 392.07,146.22 392.30,145.99 392.53,146.22 392.77,146.67 393.00,146.89 393.23,146.67 393.47,146.24 393.70,146.03 393.93,146.20 394.17,146.55 394.40,146.73 394.50,146.40 394.50,146.40 394.75,146.35 395.00,146.20 395.25,145.97 395.50,145.67 395.75,145.35 396.00,145.03 396.25,144.73 396.50,144.50 396.75,144.35 397.00,144.30 397.24,144.73 397.49,145.98 397.73,147.90 397.98,150.25 398.22,152.75 398.47,155.10 398.71,157.02 398.96,158.27 399.20,158.70 399.44,157.88 399.68,155.48 399.92,151.63 400.15,146.56 400.39,140.56 400.63,133.99 400.87,127.21 401.11,120.64 401.35,114.64 401.58,109.57 401.82,105.72 402.06,103.32 402.30,102.50 402.55,107.56 402.80,121.96 403.05,143.52 403.30,168.95 403.55,194.38 403.80,215.94 404.05,230.34 404.30,235.40 404.53,230.18 404.76,215.04 404.99,191.46 405.22,161.74 405.45,128.80 405.68,95.86 405.91,66.14 406.14,42.56 406.37,27.42 406.60,22.20 406.85,28.21 407.10,45.64 407.35,72.80 407.60,107.02 407.85,144.95 408.10,182.88 408.35,217.10 408.60,244.26 408.85,261.69 409.10,267.70 409.34,259.82 409.58,237.39 409.81,203.81 410.05,164.20 410.29,124.59 410.52,91.01 410.76,68.58 411.00,60.70 411.24,64.69 411.49,76.18 411.73,93.78 411.98,115.36 412.22,138.34 412.47,159.93 412.71,177.52 412.96,189.01 413.20,193.00 413.44,189.88 413.68,180.99 413.91,167.69 414.15,152.00 414.39,136.31 414.62,123.01 414.86,114.12 415.10,111.00 415.34,114.00 415.58,122.53 415.81,135.29 416.05,150.35 416.29,165.41 416.52,178.17 416.76,186.70 417.00,189.70 417.24,187.19 417.48,179.89 417.72,168.53 417.96,154.22 418.20,138.35 418.44,122.48 418.68,108.17 418.92,96.81 419.16,89.51 419.40,87.00 419.64,90.33 419.88,99.99 420.12,115.03 420.36,133.99 420.60,155.00 420.84,176.01 421.08,194.97 421.32,210.01 421.56,219.67 421.80,223.00 422.04,217.94 422.29,203.38 422.53,181.08 422.78,153.71 423.02,124.59 423.27,97.23 423.51,74.92 423.76,60.36 424.00,55.30 424.25,59.71 424.50,72.50 424.75,92.42 425.00,117.52 425.25,145.35 425.50,173.18 425.75,198.28 426.00,218.20 426.25,230.99 426.50,235.40 426.73,231.48 426.96,220.09 427.19,202.36 427.42,180.02 427.65,155.25 427.88,130.48 428.11,108.14 428.34,90.41 428.57,79.02 428.80,75.10 429.03,76.95 429.27,82.38 429.50,91.02 429.73,102.27 429.97,115.38 430.20,129.45 430.43,143.52 430.67,156.62 430.90,167.88 431.13,176.52 431.37,181.95 431.60,183.80 431.84,181.41 432.09,174.52 432.33,163.98 432.58,151.04 432.82,137.26 433.07,124.33 433.31,113.78 433.56,106.89 433.80,104.50 434.04,107.07 434.29,114.47 434.53,125.80 434.78,139.70 435.02,154.50 435.27,168.40 435.51,179.73 435.76,187.13 436.00,189.70 436.25,188.46 436.49,184.82 436.74,178.99 436.98,171.30 437.23,162.21 437.48,152.23 437.72,141.97 437.97,131.99 438.22,122.90 438.46,115.21 438.71,109.38 438.95,105.74 439.20,104.50 439.43,107.37 439.65,115.56 439.88,127.80 440.10,142.25 440.32,156.70 440.55,168.94 440.77,177.13 441.00,180.00 441.24,178.80 441.47,175.29 441.71,169.75 441.95,162.64 442.18,154.53 442.42,146.07 442.65,137.96 442.89,130.85 443.13,125.31 443.36,121.80 443.60,120.60 443.84,122.67 444.08,128.57 444.31,137.39 444.55,147.80 444.79,158.21 445.02,167.03 445.26,172.93 445.50,175.00 445.75,173.61 446.00,169.56 446.25,163.25 446.50,155.31 446.75,146.50 447.00,137.69 447.25,129.75 447.50,123.44 447.75,119.39 448.00,118.00 448.25,120.06 448.50,125.91 448.75,134.67 449.00,145.00 449.25,155.33 449.50,164.09 449.75,169.94 450.00,172.00 450.25,170.01 450.50,164.36 450.75,155.89 451.00,145.90 451.25,135.91 451.50,127.44 451.75,121.79 452.00,119.80 452.25,121.08 452.50,124.78 452.75,130.56 453.00,137.83 453.25,145.90 453.50,153.97 453.75,161.24 454.00,167.02 454.25,170.72 454.50,172.00 454.75,170.24 455.00,165.22 455.25,157.71 455.50,148.85 455.75,139.99 456.00,132.48 456.25,127.46 456.50,125.70 456.75,127.39 457.00,132.19 457.25,139.37 457.50,147.85 457.75,156.33 458.00,163.51 458.25,168.31 458.50,170.00 458.75,168.97 459.00,165.99 459.25,161.34 459.50,155.49 459.75,149.00 460.00,142.51 460.25,136.66 460.50,132.01 460.75,129.03 461.00,128.00 461.24,130.34 461.49,136.89 461.73,146.35 461.97,156.85 462.21,166.31 462.46,172.86 462.70,175.20 462.95,174.14 463.20,171.05 463.45,166.12 463.70,159.70 463.95,152.22 464.20,144.20 464.45,136.18 464.70,128.70 464.95,122.28 465.20,117.35 465.45,114.26 465.70,113.20 465.94,115.65 466.18,122.62 466.41,133.05 466.65,145.35 466.89,157.65 467.12,168.08 467.36,175.05 467.60,177.50 467.85,176.54 468.10,173.72 468.35,169.23 468.60,163.38 468.85,156.56 469.10,149.25 469.35,141.94 469.60,135.12 469.85,129.27 470.10,124.78 470.35,121.96 470.60,121.00 470.85,122.01 471.10,124.92 471.35,129.47 471.60,135.20 471.85,141.55 472.10,147.90 472.35,153.63 472.60,158.18 472.85,161.09 473.10,162.10 473.34,161.74 473.58,160.69 473.82,158.98 474.06,156.69 474.30,153.93 474.54,150.80 474.78,147.46 475.02,144.04 475.26,140.70 475.50,137.58 475.74,134.81 475.98,132.52 476.22,130.81 476.46,129.76 476.70,129.40 476.94,130.63 477.19,134.17 477.43,139.60 477.68,146.26 477.92,153.34 478.17,160.00 478.41,165.43 478.66,168.97 478.90,170.20 479.14,169.32 479.38,166.73 479.62,162.61 479.87,157.25 480.11,151.00 480.35,144.30 480.59,137.60 480.83,131.35 481.07,125.99 481.32,121.87 481.56,119.28 481.80,118.40 482.04,119.76 482.29,123.69 482.53,129.70 482.78,137.08 483.02,144.92 483.27,152.30 483.51,158.31 483.76,162.24 484.00,163.60 484.23,162.51 484.45,159.41 484.68,154.77 484.90,149.30 485.12,143.83 485.35,139.19 485.57,136.09 485.80,135.00 486.04,135.75 486.29,137.92 486.53,141.25 486.78,145.33 487.02,149.67 487.27,153.75 487.51,157.08 487.76,159.25 488.00,160.00 488.24,158.98 488.48,156.09 488.71,151.76 488.95,146.65 489.19,141.54 489.42,137.21 489.66,134.32 489.90,133.30 490.13,134.04 490.37,136.19 490.60,139.47 490.83,143.51 491.07,147.79 491.30,151.82 491.53,155.11 491.77,157.26 492.00,158.00 492.25,157.27 492.50,155.14 492.75,151.82 493.00,147.64 493.25,143.00 493.50,138.36 493.75,134.18 494.00,130.86 494.25,128.73 494.50,128.00 494.75,129.22 495.00,132.69 495.25,137.88 495.50,144.00 495.75,150.12 496.00,155.31 496.25,158.78 496.50,160.00 496.75,159.36 497.00,157.52 497.25,154.64 497.50,151.02 497.75,147.00 498.00,142.98 498.25,139.36 498.50,136.48 498.75,134.64 499.00,134.00 499.23,134.70 499.46,136.75 499.69,139.94 499.92,143.95 500.15,148.40 500.38,152.85 500.61,156.86 500.84,160.05 501.07,162.10 501.30,162.80 501.55,161.75 501.80,158.69 502.05,153.94 502.30,147.94 502.55,141.30 502.80,134.66 503.05,128.66 503.30,123.91 503.55,120.85 503.80,119.80 504.04,121.56 504.29,126.63 504.53,134.40 504.78,143.93 505.02,154.07 505.27,163.60 505.51,171.37 505.76,176.44 506.00,178.20 506.25,176.68 506.50,172.28 506.75,165.42 507.00,156.78 507.25,147.20 507.50,137.62 507.75,128.98 508.00,122.12 508.25,117.72 508.50,116.20 508.74,117.83 508.99,122.52 509.23,129.70 509.48,138.51 509.72,147.89 509.97,156.70 510.21,163.88 510.46,168.57 510.70,170.20 510.94,169.04 511.18,165.67 511.42,160.43 511.66,153.82 511.90,146.50 512.14,139.18 512.38,132.57 512.62,127.33 512.86,123.96 513.10,122.80 513.34,125.04 513.59,131.31 513.83,140.37 514.07,150.43 514.31,159.49 514.56,165.76 514.80,168.00 515.04,166.61 515.29,162.62 515.53,156.50 515.78,148.99 516.02,141.01 516.27,133.50 516.51,127.38 516.76,123.39 517.00,122.00 517.24,123.94 517.48,129.48 517.71,137.77 517.95,147.55 518.19,157.33 518.42,165.62 518.66,171.16 518.90,173.10 519.14,171.34 519.39,166.27 519.63,158.50 519.88,148.97 520.12,138.83 520.37,129.30 520.61,121.53 520.86,116.46 521.10,114.70 521.34,116.59 521.59,122.05 521.83,130.40 522.08,140.65 522.32,151.55 522.57,161.80 522.81,170.15 523.06,175.61 523.30,177.50 523.55,176.05 523.80,171.83 524.05,165.26 524.30,156.98 524.55,147.80 524.80,138.62 525.05,130.34 525.30,123.77 525.55,119.55 525.80,118.10 526.04,120.14 526.27,125.93 526.51,134.61 526.75,144.85 526.99,155.09 527.23,163.77 527.46,169.56 527.70,171.60 527.94,170.03 528.19,165.51 528.43,158.57 528.68,150.07 528.92,141.03 529.17,132.53 529.41,125.59 529.66,121.07 529.90,119.50 530.14,121.07 530.39,125.59 530.63,132.53 530.88,141.03 531.12,150.07 531.37,158.57 531.61,165.51 531.86,170.03 532.10,171.60 532.33,170.21 532.57,166.20 532.80,160.05 533.03,152.51 533.27,144.49 533.50,136.95 533.73,130.80 533.97,126.79 534.20,125.40 534.43,126.26 534.66,128.76 534.89,132.65 535.12,137.56 535.35,143.00 535.58,148.44 535.81,153.35 536.04,157.24 536.27,159.74 536.50,160.60 536.73,159.50 536.95,156.35 537.17,151.65 537.40,146.10 537.62,140.55 537.85,135.85 538.07,132.70 538.30,131.60 538.54,132.61 538.79,135.51 539.03,139.95 539.28,145.40 539.52,151.20 539.77,156.65 540.01,161.09 540.26,163.99 540.50,165.00 540.75,163.71 541.00,160.02 541.25,154.51 541.50,148.00 541.75,141.49 542.00,135.98 542.25,132.29 542.50,131.00 542.75,131.71 543.00,133.77 543.25,136.98 543.50,141.02 543.75,145.50 544.00,149.98 544.25,154.02 544.50,157.23 544.75,159.29 545.00,160.00" stroke="#ff0000" stroke-width="1.20"/>
</g>
<g stroke="#8f8f8f" stroke-width="0.9" fill="none">
<rect x="327.45" y="16.50" width="216.25" height="256.60"/>
<path d="M327.45 273.10v-2.70M327.45 16.50v2.70"/>
<path d="M363.49 273.10v-2.70M363.49 16.50v2.70"/>
<path d="M399.53 273.10v-2.70M399.53 16.50v2.70"/>
<path d="M435.58 273.10v-2.70M435.58 16.50v2.70"/>
<path d="M471.62 273.10v-2.70M471.62 16.50v2.70"/>
<path d="M507.66 273.10v-2.70M507.66 16.50v2.70"/>
<path d="M543.70 273.10v-2.70M543.70 16.50v2.70"/>
<path d="M327.45 16.50h2.70M543.70 16.50h-2.70"/>
<path d="M327.45 48.58h2.70M543.70 48.58h-2.70"/>
<path d="M327.45 80.65h2.70M543.70 80.65h-2.70"/>
<path d="M327.45 112.73h2.70M543.70 112.73h-2.70"/>
<path d="M327.45 144.80h2.70M543.70 144.80h-2.70"/>
<path d="M327.45 176.88h2.70M543.70 176.88h-2.70"/>
<path d="M327.45 208.95h2.70M543.70 208.95h-2.70"/>
<path d="M327.45 241.03h2.70M543.70 241.03h-2.70"/>
<path d="M327.45 273.10h2.70M543.70 273.10h-2.70"/>
</g>
<g font-family="Liberation Sans, Arial, sans-serif" font-weight="bold" font-size="9.6" fill="#000" stroke="#000" stroke-width="0.25">
<text x="324.05" y="20.40" text-anchor="end">0.04</text>
<text x="324.05" y="52.48" text-anchor="end">0.03</text>
<text x="324.05" y="84.55" text-anchor="end">0.02</text>
<text x="324.05" y="116.63" text-anchor="end">0.01</text>
<text x="324.05" y="148.70" text-anchor="end">0</text>
<text x="324.05" y="180.78" text-anchor="end">-0.01</text>
<text x="324.05" y="212.85" text-anchor="end">-0.02</text>
<text x="324.05" y="244.93" text-anchor="end">-0.03</text>
<text x="324.05" y="277.00" text-anchor="end">-0.04</text>
<text x="327.45" y="286.5" text-anchor="middle">0</text>
<text x="363.49" y="286.5" text-anchor="middle">0.5</text>
<text x="399.53" y="286.5" text-anchor="middle">1</text>
<text x="435.58" y="286.5" text-anchor="middle">1.5</text>
<text x="471.62" y="286.5" text-anchor="middle">2</text>
<text x="507.66" y="286.5" text-anchor="middle">2.5</text>
<text x="543.70" y="286.5" text-anchor="middle">3</text>
</g>
<text x="435.58" y="12.8" text-anchor="middle" font-family="Liberation Sans, Arial, sans-serif" font-weight="bold" font-size="10.4" fill="#000" stroke="#000" stroke-width="0.25">(b)</text>
<text x="435.58" y="299.7" text-anchor="middle" font-family="Liberation Sans, Arial, sans-serif" font-weight="bold" font-size="10.3" fill="#000" stroke="#000" stroke-width="0.25">Time (sec)</text>
<text transform="translate(299.55 145.2) rotate(-90)" text-anchor="middle" font-family="Liberation Sans, Arial, sans-serif" font-weight="bold" font-size="10.15" fill="#000" stroke="#000" stroke-width="0.25">Amplitude (V)</text>
<g font-family="Liberation Sans, Arial, sans-serif" fill="#000" stroke="#000" stroke-width="0.2"><text x="519.00" y="301.7" font-size="10.2">&#215;</text><text x="525.70" y="301.7" font-size="9.6" font-weight="bold">10</text><text x="536.80" y="296.7" font-size="6.4" font-weight="bold">&#8722;4</text></g>
<rect x="427.30" y="16.8" width="117.2" height="23.1" fill="#fff" stroke="#8a8a8a" stroke-width="0.85"/>
<path d="M429.10 22.8h16.6" stroke="#4848f2" stroke-width="1.7"/>
<path d="M429.10 34.2h16.6" stroke="#ff6262" stroke-width="1.7"/>
<g font-family="Liberation Sans, Arial, sans-serif" font-weight="bold" font-size="8.4" fill="#000" stroke="#000" stroke-width="0.22">
<text x="447.20" y="26.2">Damaged</text>
<text x="447.20" y="37.5">Reconstructed baseline</text>
</g>
<ellipse cx="85.2" cy="146.3" rx="8.4" ry="13.7" fill="none" stroke="#06ea06" stroke-width="1.3"/>
<ellipse cx="370.2" cy="146.0" rx="12.2" ry="36.3" fill="none" stroke="#06ea06" stroke-width="1.3"/>
<g font-family="Liberation Sans, Arial, sans-serif" font-weight="bold" font-size="7.9" fill="#06ea06" stroke="#06ea06" stroke-width="0.2" text-anchor="middle">
<text x="84.4" y="171.5">Crosstalk</text>
<text x="370.2" y="193.2">Crosstalk</text>
</g>
</svg>
</body></html>
